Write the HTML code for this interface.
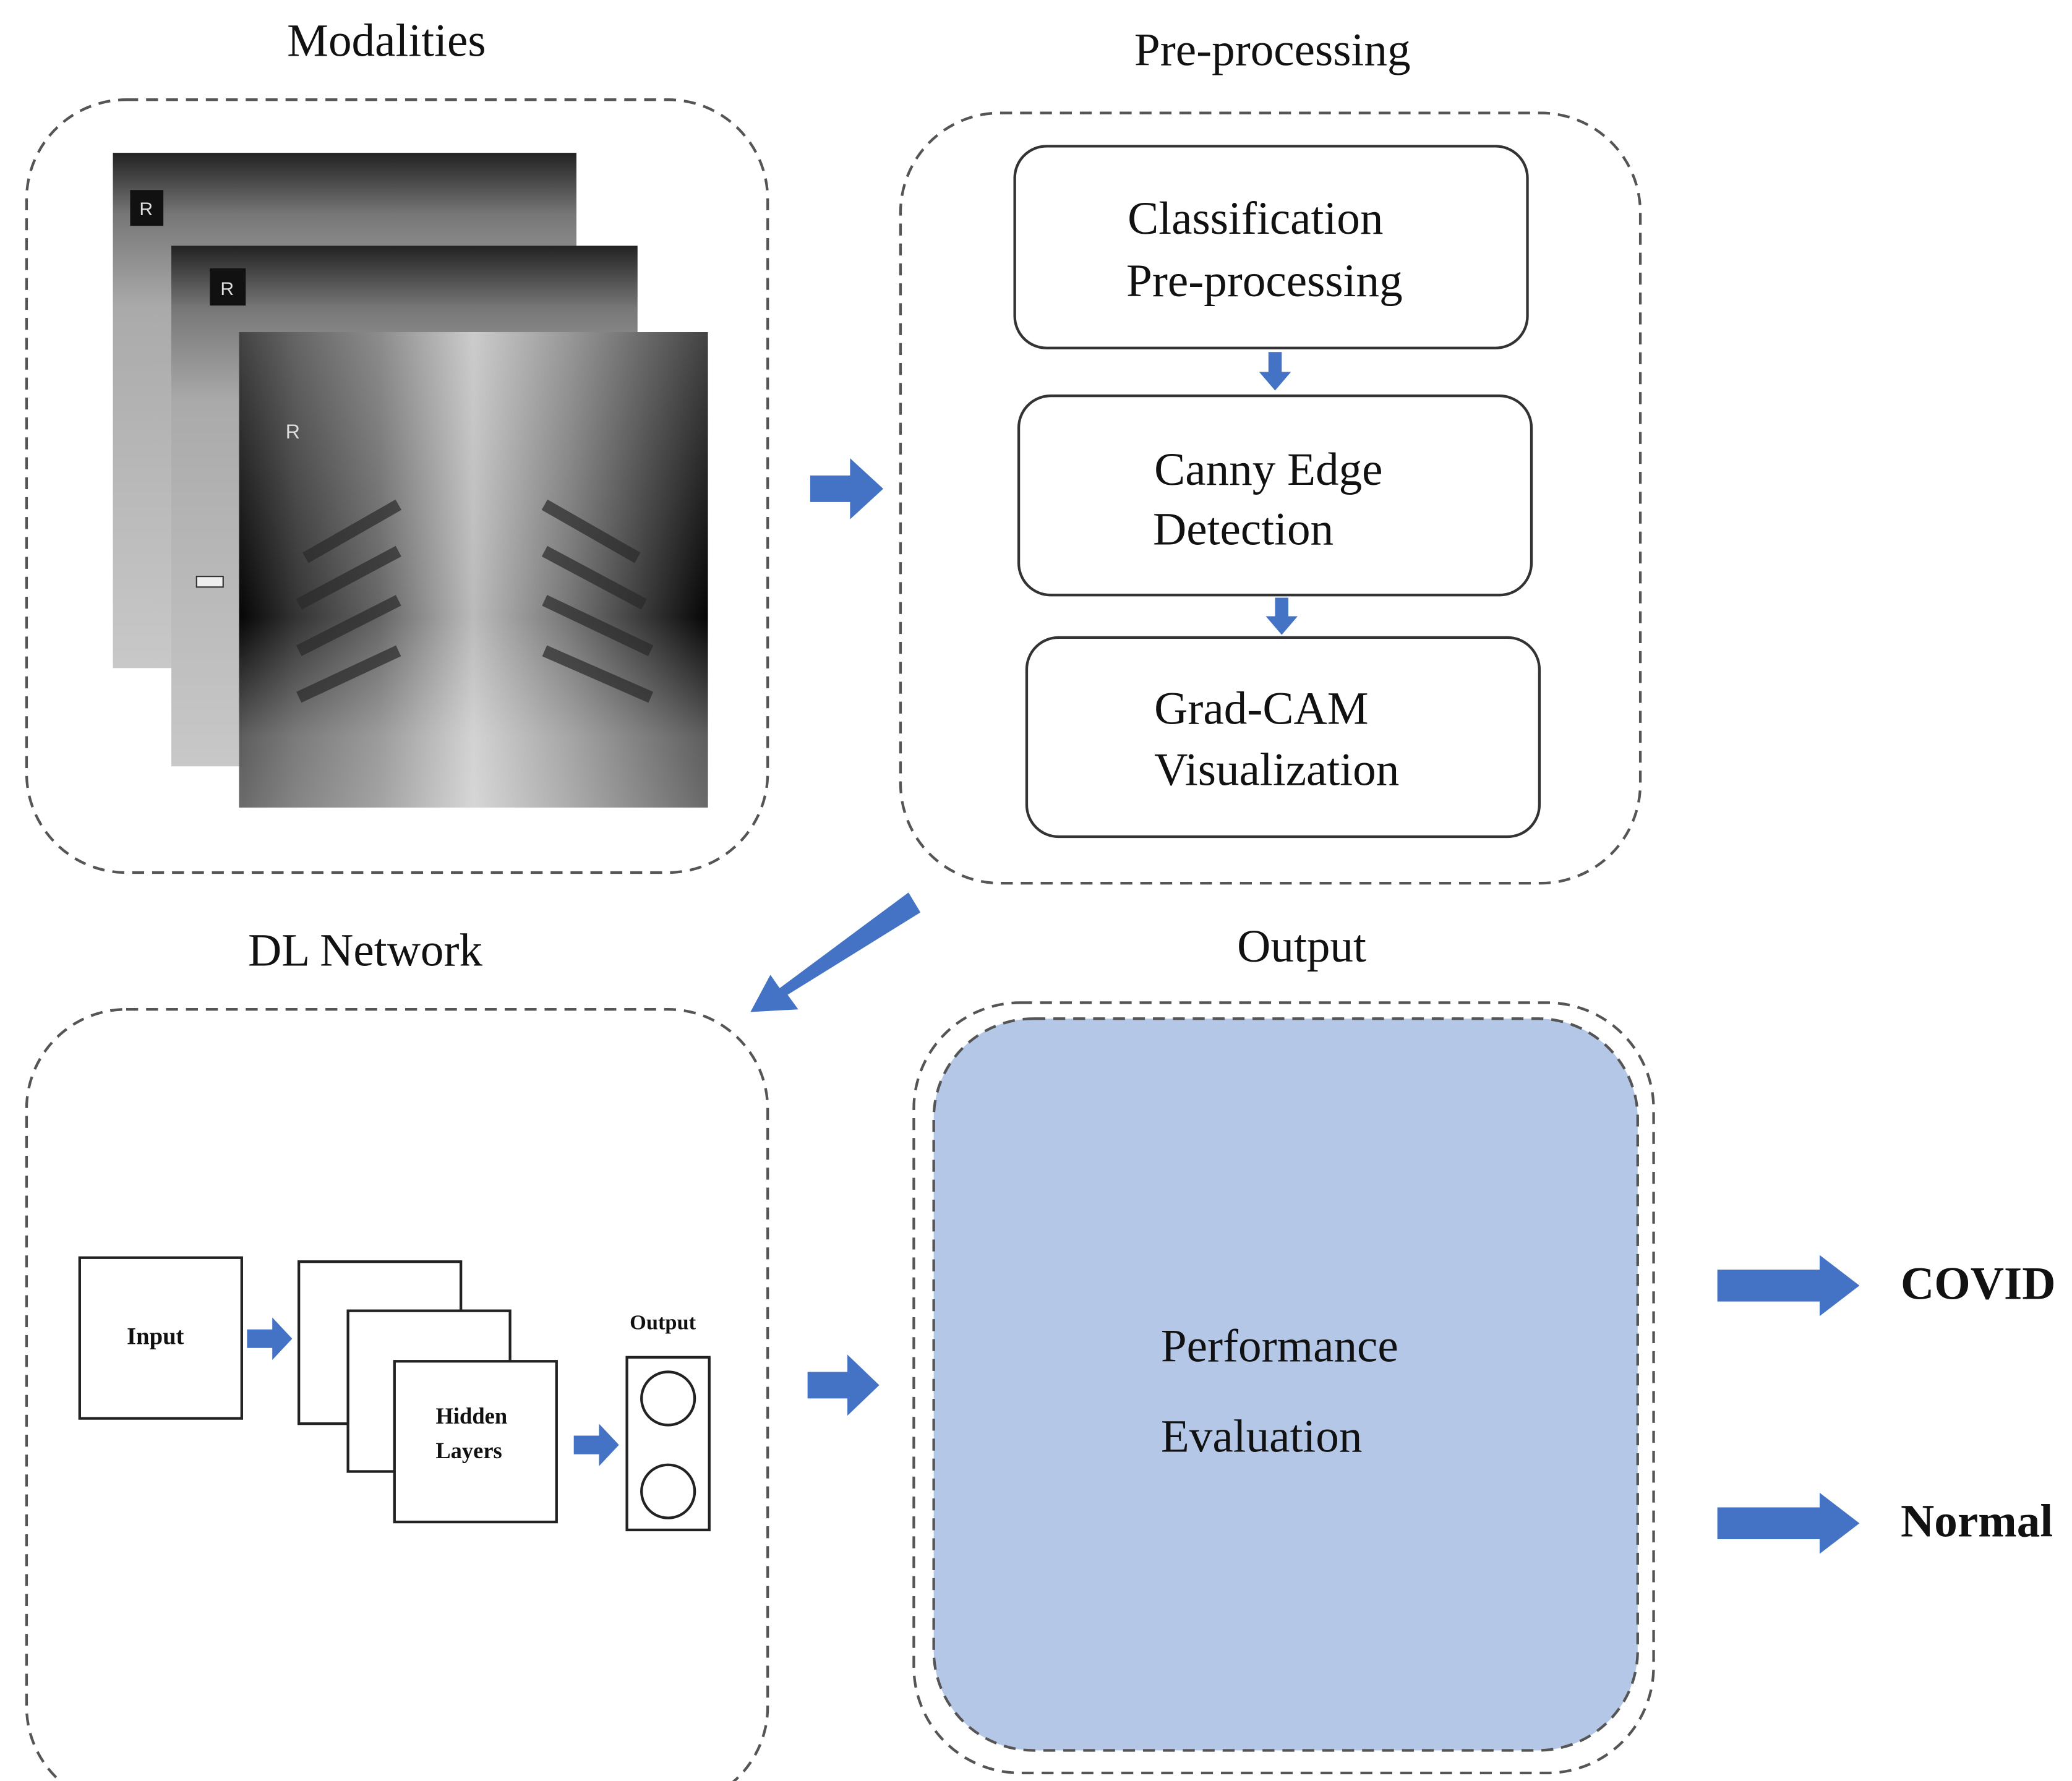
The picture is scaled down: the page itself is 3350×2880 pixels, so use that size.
<!DOCTYPE html>
<html><head><meta charset="utf-8"><style>html,body{margin:0;padding:0;background:#fff}svg{display:block}</style></head>
<body>
<svg width="3350" height="2880" viewBox="0 0 1560 1341" xmlns="http://www.w3.org/2000/svg" font-family="'Liberation Serif', serif">
<defs>
<linearGradient id="bk" x1="0" y1="0" x2="0" y2="1"><stop offset="0" stop-color="#222"/><stop offset="0.12" stop-color="#777"/><stop offset="0.3" stop-color="#aaa"/><stop offset="1" stop-color="#c8c8c8"/></linearGradient>
<linearGradient id="fr" x1="0" y1="0" x2="1" y2="0"><stop offset="0" stop-color="#050505"/><stop offset="0.12" stop-color="#333"/><stop offset="0.3" stop-color="#666"/><stop offset="0.5" stop-color="#bbb"/><stop offset="0.7" stop-color="#777"/><stop offset="0.88" stop-color="#333"/><stop offset="1" stop-color="#050505"/></linearGradient>
<linearGradient id="frv" x1="0" y1="0" x2="0" y2="1"><stop offset="0" stop-color="#fff" stop-opacity="0.25"/><stop offset="0.6" stop-color="#fff" stop-opacity="0"/><stop offset="0.85" stop-color="#fff" stop-opacity="0.35"/><stop offset="1" stop-color="#fff" stop-opacity="0.4"/></linearGradient>
</defs>
<g fill="none" stroke="#555" stroke-width="2" stroke-dasharray="9 6">
<rect x="20" y="75" width="558" height="582" rx="75"/>
<rect x="678" y="85" width="557" height="580" rx="75"/>
<rect x="20" y="760" width="558" height="600" rx="75"/>
<rect x="688" y="755" width="557" height="580" rx="80"/>
</g>
<rect x="703" y="767" width="530" height="551" rx="75" fill="#b4c7e7" stroke="#555" stroke-width="2" stroke-dasharray="9 6"/>
<g font-size="35" text-anchor="middle" fill="#111">
<text x="291" y="42">Modalities</text>
<text x="958" y="49">Pre-processing</text>
<text x="275" y="727">DL Network</text>
<text x="980" y="724">Output</text>
</g>
<rect x="85" y="115" width="349" height="388" fill="url(#bk)"/>
<rect x="98" y="143" width="25" height="27" fill="#111"/><text x="110" y="162" font-size="14" fill="#ddd" text-anchor="middle" font-family="Liberation Sans">R</text>
<rect x="129" y="185" width="351" height="392" fill="url(#bk)"/>
<rect x="158" y="202" width="27" height="28" fill="#111"/><text x="171" y="222" font-size="14" fill="#ddd" text-anchor="middle" font-family="Liberation Sans">R</text>
<rect x="148" y="434" width="20" height="8" fill="#eee" stroke="#333"/>
<rect x="180" y="250" width="353" height="358" fill="url(#fr)"/>
<rect x="180" y="250" width="353" height="358" fill="url(#frv)"/>
<g stroke="#2a2a2a" stroke-width="9" opacity="0.7">
<path d="M230 420 L300 380 M225 455 L300 415 M225 490 L300 452 M225 525 L300 490"/>
<path d="M480 420 L410 380 M485 455 L410 415 M490 490 L410 452 M490 525 L410 490"/>
</g>
<text x="215" y="330" font-size="15" fill="#ddd" font-family="Liberation Sans">R</text>
<g fill="#4472c4">
<polygon points="610,358 640,358 640,345 665,368 640,391 640,378 610,378"/>
<polygon points="608,1033 638,1033 638,1020 662,1043 638,1066 638,1053 608,1053"/>
<polygon points="1293,956 1370,956 1370,945 1400,968 1370,991 1370,980 1293,980"/>
<polygon points="1293,1135 1370,1135 1370,1124 1400,1147 1370,1170 1370,1159 1293,1159"/>
<polygon points="955,265 965,265 965,280 972,280 960,294 948,280 955,280"/>
<polygon points="960,450 970,450 970,464 977,464 965,478 953,464 960,464"/>
<polygon points="684,672 693,687 593,749 601,760 565,762 580,734 587,744"/>
<polygon points="186,1001 205,1001 205,992 220,1008 205,1024 205,1015 186,1015"/>
<polygon points="432,1081 451,1081 451,1072 466,1088 451,1104 451,1095 432,1095"/>
</g>
<g fill="#fff" stroke="#333" stroke-width="2">
<rect x="764" y="110" width="386" height="152" rx="24"/>
<rect x="767" y="298" width="386" height="150" rx="24"/>
<rect x="773" y="480" width="386" height="150" rx="24"/>
</g>
<g font-size="35" fill="#111">
<text x="849" y="176">Classification</text>
<text x="848" y="223">Pre-processing</text>
<text x="869" y="365">Canny Edge</text>
<text x="868" y="410">Detection</text>
<text x="869" y="545">Grad-CAM</text>
<text x="869" y="591">Visualization</text>
<text x="874" y="1025">Performance</text>
<text x="874" y="1093">Evaluation</text>
</g>
<g font-size="35" font-weight="bold" fill="#111">
<text x="1431" y="978">COVID</text>
<text x="1431" y="1157">Normal</text>
</g>
<g fill="#fff" stroke="#222" stroke-width="2">
<rect x="60" y="947" width="122" height="121"/>
<rect x="225" y="950" width="122" height="122"/>
<rect x="262" y="987" width="122" height="121"/>
<rect x="297" y="1025" width="122" height="121"/>
<rect x="472" y="1022" width="62" height="130"/>
<circle cx="503" cy="1053" r="20"/>
<circle cx="503" cy="1123" r="20"/>
</g>
<g font-weight="bold" fill="#111" text-anchor="middle">
<text x="117" y="1012" font-size="18">Input</text>
<text x="355" y="1072" font-size="17">Hidden</text>
<text x="353" y="1098" font-size="17">Layers</text>
<text x="499" y="1001" font-size="16">Output</text>
</g>
</svg>
</body></html>
